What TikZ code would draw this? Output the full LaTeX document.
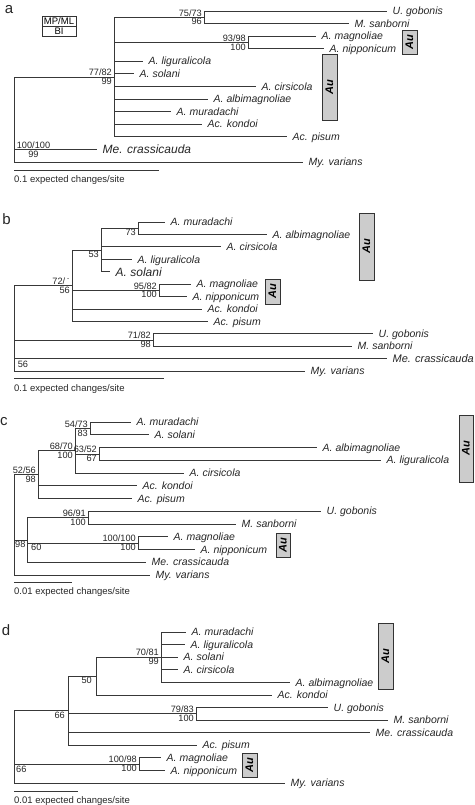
\documentclass[tikz,border=0pt]{standalone}
\usepackage{fontspec}
\setmainfont{Liberation Sans}
\tikzset{
  br/.style={draw=black!78, line width=0.8pt},
  sp/.style={anchor=base west, inner sep=0pt, xshift=5.5pt, yshift=-3.7pt, font=\fontsize{10.5}{12}\selectfont\itshape, text=black!85},
  sup/.style={inner sep=1pt, font=\fontsize{9.2}{10}\selectfont, text=black!85},
  aubox/.style={draw=black!80, fill=black!20, line width=0.8pt, rotate=90, inner sep=0pt, minimum height=15pt, font=\fontsize{11}{12}\selectfont\bfseries\itshape},
  plabel/.style={font=\fontsize{15}{16}\selectfont, text=black!85, inner sep=0pt},
  scl/.style={font=\fontsize{9.5}{11}\selectfont, anchor=north west, inner sep=0pt, text=black!85},
  cell/.style={draw=black!80, line width=0.7pt, minimum width=34pt, minimum height=10pt, inner sep=0pt, font=\fontsize{9.5}{10}\selectfont},
}
\newcommand\lf[5][]{\coordinate (#2) at (#3,#4); \node[sp,#1] (#2t) at (#2) {#5};}
\newcommand\bs[3]{\node[sup, anchor=south east] (#1u) at ([xshift=-1pt]#1) {#2};
  \node[sup, anchor=north east] (#1d) at ([xshift=-1pt]#1) {#3};}
\newcommand\ed[2]{\draw[br] (#1) |- (#2);}
\begin{document}
\begin{tikzpicture}[x=1pt,y=-1pt]
\useasboundingbox (0,0) rectangle (474,805);
% ================= panel a =================
\node[plabel] (pa) at (9,10) {a};
\node[cell] (mpml) at (59,21) {MP/ML};
\node[cell] (bi) at (59,31) {BI};
\coordinate (aR) at (14,119.5);
\coordinate (aI) at (114,77.05);
\coordinate (aUM) at (204,17.3);
\coordinate (aMg) at (248,42.45);
\lf{aUg}{387}{11.0}{U. gobonis}
\lf{aMs}{349}{23.6}{M. sanborni}
\lf{aMag}{316}{36.2}{A. magnoliae}
\lf{aNip}{324}{48.7}{A. nipponicum}
\lf{aLig}{143}{61.3}{A. liguralicola}
\lf{aSol}{134}{73.9}{A. solani}
\lf{aCir}{256}{86.5}{A. cirsicola}
\lf{aAlb}{208}{99.1}{A. albimagnoliae}
\lf{aMur}{171}{111.6}{A. muradachi}
\lf{aKon}{202}{124.2}{Ac. kondoi}
\lf{aPis}{287}{136.8}{Ac. pisum}
\lf[font=\fontsize{12}{14}\selectfont\itshape, yshift=-0.6pt]{aMe}{97}{149.4}{Me. crassicauda}
\lf{aMy}{303}{162.0}{My. varians}
\ed{aR}{aI}\ed{aR}{aMe}\ed{aR}{aMy}
\ed{aI}{aUM}\ed{aI}{aMg}\ed{aI}{aLig}\ed{aI}{aSol}\ed{aI}{aCir}
\ed{aI}{aAlb}\ed{aI}{aMur}\ed{aI}{aKon}\ed{aI}{aPis}
\ed{aUM}{aUg}\ed{aUM}{aMs}\ed{aMg}{aMag}\ed{aMg}{aNip}
\bs{aUM}{75/73}{96}
\bs{aMg}{93/98}{100}
\bs{aI}{77/82}{99}
\node[sup, anchor=south] (aRu) at (33.5,149.4) {100/100};
\node[sup, anchor=north] (aRd) at (33.5,149.4) {99};
\node[aubox, minimum width=24pt] (aAu1) at (409.5,42) {Au};
\node[aubox, minimum width=66pt] (aAu2) at (329.5,87) {Au};
\coordinate (aS0) at (14,170); \coordinate (aS1) at (159,170);
\draw[br] (aS0) -- (aS1);
\node[scl] (aSt) at (14,175) {0.1 expected changes/site};
% ================= panel b =================
\node[plabel] (pb) at (6.5,219) {b};
\coordinate (bR) at (14,328.4);
\coordinate (b72) at (72,285.7);
\coordinate (b53) at (101,250.0);
\coordinate (b73) at (138,228.2);
\coordinate (bMg) at (159,290.3);
\coordinate (bUM) at (153,340.0);
\lf{bMur}{165}{222.0}{A. muradachi}
\lf{bAlb}{267}{234.4}{A. albimagnoliae}
\lf{bCir}{221}{246.8}{A. cirsicola}
\lf{bLig}{132}{259.3}{A. liguralicola}
\lf[font=\fontsize{12}{14}\selectfont\itshape, yshift=-0.6pt]{bSol}{110}{271.7}{A. solani}
\lf{bMag}{191}{284.1}{A. magnoliae}
\lf{bNip}{187}{296.5}{A. nipponicum}
\lf{bKon}{202}{308.9}{Ac. kondoi}
\lf{bPis}{208}{321.4}{Ac. pisum}
\lf{bUg}{373}{333.8}{U. gobonis}
\lf{bMs}{352}{346.2}{M. sanborni}
\lf[font=\fontsize{11}{13}\selectfont\itshape]{bMe}{387}{358.6}{Me. crassicauda}
\lf{bMy}{305}{371.0}{My. varians}
\ed{bR}{b72}\ed{bR}{bUM}\ed{bR}{bMe}\ed{bR}{bMy}
\ed{b72}{b53}\ed{b72}{bMg}\ed{b72}{bKon}\ed{b72}{bPis}
\ed{b53}{b73}\ed{b53}{bCir}\ed{b53}{bLig}\ed{b53}{bSol}
\ed{b73}{bMur}\ed{b73}{bAlb}\ed{bMg}{bMag}\ed{bMg}{bNip}
\ed{bUM}{bUg}\ed{bUM}{bMs}
\node[sup, anchor=north east] (b73d) at ([xshift=-1pt]b73) {73};
\node[sup, anchor=north east] (b53d) at ([xshift=-1pt]b53) {53};
\bs{b72}{72/\,\raisebox{2.5pt}{·}}{56}
\bs{bMg}{95/82}{100}
\bs{bUM}{71/82}{98}
\node[sup] (bRl) at (23,364.8) {56};
\node[aubox, minimum width=25pt] (bAu1) at (272.5,291.5) {Au};
\node[aubox, minimum width=67pt] (bAu2) at (366.5,246.5) {Au};
\coordinate (bS0) at (14,378); \coordinate (bS1) at (164,378);
\draw[br] (bS0) -- (bS1);
\node[scl] (bSt) at (14,384) {0.1 expected changes/site};
% ================= panel c =================
\node[plabel] (pc) at (4,422) {c};
\coordinate (cR) at (14,524.8);
\coordinate (c5256) at (38,474.6);
\coordinate (c6870) at (75,450.7);
\coordinate (c5473) at (90,428.4);
\coordinate (c6352) at (99,453.9);
\coordinate (c27) at (27,539.9);
\coordinate (cUM) at (88,517.6);
\coordinate (cMg) at (138,543.1);
\lf{cMur}{131}{422.0}{A. muradachi}
\lf{cSol}{149}{434.75}{A. solani}
\lf{cAlb}{317}{447.5}{A. albimagnoliae}
\lf{cLig}{381}{460.25}{A. liguralicola}
\lf{cCir}{184}{473.0}{A. cirsicola}
\lf{cKon}{137}{485.75}{Ac. kondoi}
\lf{cPis}{132}{498.5}{Ac. pisum}
\lf{cUg}{321}{511.25}{U. gobonis}
\lf{cMs}{236}{524.0}{M. sanborni}
\lf{cMag}{168}{536.75}{A. magnoliae}
\lf{cNip}{195}{549.5}{A. nipponicum}
\lf{cMe}{146}{562.25}{Me. crassicauda}
\lf{cMy}{150}{575.0}{My. varians}
\ed{cR}{c5256}\ed{cR}{c27}\ed{cR}{cMy}
\ed{c5256}{c6870}\ed{c5256}{cKon}\ed{c5256}{cPis}
\ed{c6870}{c5473}\ed{c6870}{c6352}\ed{c6870}{cCir}
\ed{c5473}{cMur}\ed{c5473}{cSol}\ed{c6352}{cAlb}\ed{c6352}{cLig}
\ed{c27}{cUM}\ed{c27}{cMg}\ed{c27}{cMe}
\ed{cUM}{cUg}\ed{cUM}{cMs}\ed{cMg}{cMag}\ed{cMg}{cNip}
\bs{c5473}{54/73}{83}
\bs{c6870}{68/70}{100}
\bs{c6352}{63/52}{67}
\bs{c5256}{52/56}{98}
\bs{cUM}{96/91}{100}
\bs{cMg}{100/100}{100}
\node[sup, anchor=north west] (cRl) at (14,539.9) {98};
\node[sup, anchor=north west] (c27l) at (30,543.1) {60};
\node[aubox, minimum width=67pt, minimum height=14pt] (cAu1) at (466,448.5) {Au};
\node[aubox, minimum width=24pt, minimum height=14pt] (cAu2) at (283,545) {Au};
\coordinate (cS0) at (14,582); \coordinate (cS1) at (72,582);
\draw[br] (cS0) -- (cS1);
\node[scl] (cSt) at (14,587) {0.01 expected changes/site};
% ================= panel d =================
\node[plabel] (pd) at (6,630) {d};
\coordinate (dR) at (14,746.8);
\coordinate (d66) at (68,710.6);
\coordinate (d50) at (96,676.0);
\coordinate (d7081) at (161,657.2);
\coordinate (dUM) at (196,713.8);
\coordinate (dMg) at (139,764.1);
\lf{dMur}{186}{632.0}{A. muradachi}
\lf{dLig}{185}{644.6}{A. liguralicola}
\lf{dSol}{178}{657.2}{A. solani}
\lf{dCir}{178}{669.7}{A. cirsicola}
\lf{dAlb}{290}{682.3}{A. albimagnoliae}
\lf{dKon}{272}{694.9}{Ac. kondoi}
\lf{dUg}{328}{707.5}{U. gobonis}
\lf{dMs}{388}{720.1}{M. sanborni}
\lf{dMe}{370}{732.6}{Me. crassicauda}
\lf{dPis}{197}{745.2}{Ac. pisum}
\lf{dMag}{161}{757.8}{A. magnoliae}
\lf{dNip}{165}{770.4}{A. nipponicum}
\lf{dMy}{285}{783.0}{My. varians}
\ed{dR}{d66}\ed{dR}{dMg}\ed{dR}{dMy}
\ed{d66}{d50}\ed{d66}{dUM}\ed{d66}{dMe}\ed{d66}{dPis}
\ed{d50}{d7081}\ed{d50}{dKon}
\ed{d7081}{dMur}\ed{d7081}{dLig}\ed{d7081}{dSol}\ed{d7081}{dCir}\ed{d7081}{dAlb}
\ed{dUM}{dUg}\ed{dUM}{dMs}\ed{dMg}{dMag}\ed{dMg}{dNip}
\bs{d7081}{70/81}{99}
\node[sup, anchor=north east] (d50d) at ([xshift=-3pt]d50) {50};
\node[sup, anchor=north east] (d66d) at ([xshift=-2pt]d66) {66};
\bs{dUM}{79/83}{100}
\bs{dMg}{100/98}{100}
\node[sup, anchor=north west] (dRl) at (15,764.5) {66};
\node[aubox, minimum width=66pt] (dAu1) at (385.5,656) {Au};
\node[aubox, minimum width=24pt] (dAu2) at (249.5,765) {Au};
\coordinate (dS0) at (14,791); \coordinate (dS1) at (78,791);
\draw[br] (dS0) -- (dS1);
\node[scl] (dSt) at (14,796) {0.01 expected changes/site};
\end{tikzpicture}
\end{document}
